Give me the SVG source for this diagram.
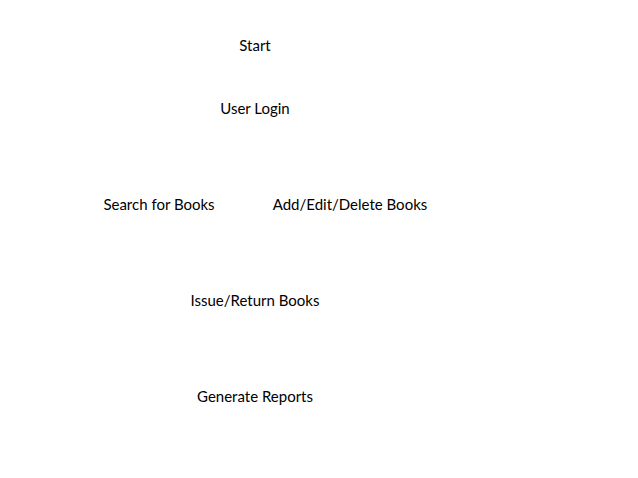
<svg xmlns="http://www.w3.org/2000/svg" width="638" height="478" viewBox="0 0 638 478">
<style>text{font-family:Lato,"Open Sans",sans-serif;font-size:15px;fill:#000;text-anchor:middle}</style>
<rect width="638" height="478" fill="#fff"/>
<g id="connectors"></g>
<g id="start"><text x="255" y="51">Start</text></g>
<g id="login"><text x="255" y="114">User Login</text></g>
<g id="search"><text x="159" y="210">Search for Books</text></g>
<g id="edit"><text x="350" y="210">Add/Edit/Delete Books</text></g>
<g id="issue"><text x="255" y="306">Issue/Return Books</text></g>
<g id="reports"><text x="255" y="402">Generate Reports</text></g>
</svg>
